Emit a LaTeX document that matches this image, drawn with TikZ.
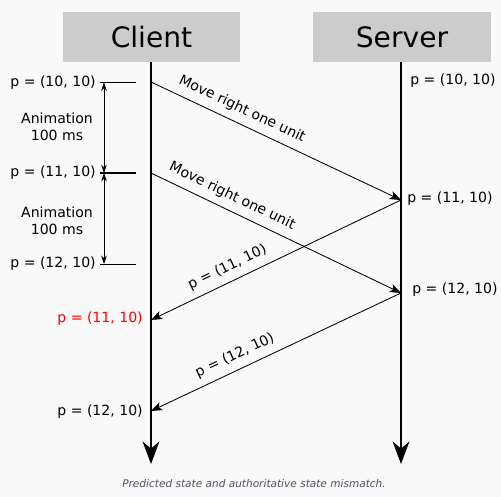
\documentclass[tikz,border=0pt]{standalone}
\usepackage{fontspec}
\setmainfont{DejaVu Sans}
\usetikzlibrary{arrows.meta}

\definecolor{bgcol}{HTML}{F9F9F9}
\definecolor{headcol}{HTML}{CCCCCC}
\definecolor{capcol}{HTML}{505060}

\tikzset{
  head/.style={fill=headcol, minimum width=4.425cm, minimum height=1.25cm, font=\fontsize{20}{24}\selectfont},
  lifeline/.style={line width=1.1pt, -{Stealth[length=16pt, width=12pt, inset=5pt]}},
  msg/.style={line width=0.6pt, -{Stealth[length=8pt, width=6pt, inset=2pt]}},
  lbl/.style={inner sep=0pt, font=\fontsize{10}{12}\selectfont},
  span/.style={line width=0.5pt, {Stealth[length=6pt, width=4pt]}-{Stealth[length=6pt, width=4pt]}}
}

\begin{document}
\begin{tikzpicture}[x=0.025cm, y=-0.025cm]

% Background
\fill[bgcol] (0,0) rectangle (501,497);
\useasboundingbox (0,0) rectangle (501,497);

% Heads
\node[head] (client) at (151.5,37) {Client};
\node[head] (server) at (402,37) {Server};

% Lifelines
\coordinate (cend) at (151,464);
\coordinate (send) at (401,464);
\draw[lifeline] (client.south -| cend) -- (cend);
\draw[lifeline] (server.south -| send) -- (send);

% Points on the lifelines
\coordinate (c1) at (151,82);
\coordinate (c2) at (151,173);
\coordinate (c3) at (151,320);
\coordinate (c4) at (151,411);
\coordinate (s1) at (401,200);
\coordinate (s2) at (401,293);

% Messages
\draw[msg] (c1) -- (s1) node[lbl, sloped, above=5pt, pos=0.34] {Move right one unit};
\draw[msg] (c2) -- (s2) node[lbl, sloped, above=5pt, pos=0.30] {Move right one unit};
\draw[msg] (s1) -- (c3) node[lbl, sloped, above=5pt, pos=0.67] {p = (11, 10)};
\draw[msg] (s2) -- (c4) node[lbl, sloped, above=5pt, pos=0.64] {p = (12, 10)};

% Server states
\node[lbl, anchor=west] (sp1) at (410,81) {p = (10, 10)};
\node[lbl, anchor=west] (sp2) at (407,199) {p = (11, 10)};
\node[lbl, anchor=west] (sp3) at (412,290) {p = (12, 10)};

% Client states
\node[lbl, anchor=east] (cp1) at (96,83) {p = (10, 10)};
\node[lbl, anchor=east] (cp2) at (96,173) {p = (11, 10)};
\node[lbl, anchor=east] (cp3) at (96,264) {p = (12, 10)};
\node[lbl, anchor=east, red] (cp4) at (143,319) {p = (11, 10)};
\node[lbl, anchor=east] (cp5) at (143,412) {p = (12, 10)};

% Ticks
\coordinate (t1) at (100,82.5);
\coordinate (t2) at (100,173);
\coordinate (t3) at (100,264);
\draw[line width=0.5pt] (t1) -- +(36,0);
\draw[line width=1.2pt] (t2) -- +(36,0);
\draw[line width=0.5pt] (t3) -- +(36,0);

% Animation spans
\draw[span] (t1) ++(4,0) coordinate (a1) -- (a1 |- t2);
\draw[span] (t2) ++(4,0) coordinate (a2) -- (a2 |- t3);
\node[lbl, align=center] (anim1) at (57,127) {Animation\\100 ms};
\node[lbl, align=center] (anim2) at (57,221) {Animation\\100 ms};

% Caption
\node[font=\fontsize{7.5}{9}\selectfont\itshape, text=capcol] (caption) at (254,484) {Predicted state and authoritative state mismatch.};

\end{tikzpicture}
\end{document}
